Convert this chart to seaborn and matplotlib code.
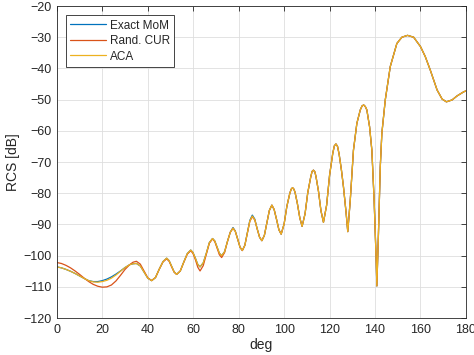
import pandas as pd
import matplotlib
matplotlib.use("Agg")
import matplotlib.pyplot as plt
import seaborn as sns

# angle samples (deg)
deg = [0, 2, 4, 6, 8, 10, 12, 14, 16, 18, 20, 22, 24, 26, 28, 30, 32, 33.5, 35,
       36.7, 38.4, 40, 41.7, 43.4, 45, 46.7, 48.3, 49.4, 50.5, 51.6, 52.7,
       54.3, 55.8, 57.4, 58.9, 59.9, 61, 62, 63, 64.4, 65.8, 67.1, 68.5,
       69.5, 70.5, 71.5, 72.5, 73.8, 75, 76.3, 77.5, 78.5, 79.6, 80.6, 81.6,
       82.7, 83.8, 84.9, 86, 87.1, 88.1, 89.2, 90.2, 91.3, 92.4, 93.5, 94.6,
       95.6, 96.7, 97.7, 98.7, 100, 101.2, 102.5, 103.1, 103.7, 104.3, 104.8, 105.8, 106.9, 107.9,
       109.2, 110.4, 111.7, 112.3, 112.9, 113.5, 114, 115.1, 116.2, 117.3,
       118.7, 120, 121.4, 122.1, 122.8, 123.5,
       124.2, 125.2, 126.1, 127.3, 128, 129.1, 130.5, 132, 133.5, 134.3, 135, 135.7,
       136.4, 137.6, 138.6, 139.6, 140.5, 140.8, 141.5, 142.3, 143, 144.5, 146.7,
       149.6, 151.8, 154.3, 157, 160, 162.1, 164.3, 165.8, 167.3, 169.5, 171.4,
       173.9, 176.1, 179, 180]

aca = [-103.6, -103.9, -104.4, -105.0, -105.7, -106.5, -107.3, -108.0, -108.4, -108.5,
       -108.3, -107.9, -107.2, -106.2, -105.0, -103.8, -102.9, -102.6, -102.5,
       -103.3, -105.3, -107.2, -108.0, -107.0, -104.4, -101.9, -100.8, -101.6, -103.4, -105.2, -106.0,
       -104.9, -102.1, -99.3, -98.2, -99.0, -100.9, -102.8, -103.6, -102.3, -99.1, -95.8, -94.5,
       -95.3, -97.3, -99.2, -100.0, -98.7, -95.6, -92.5, -91.2, -92.2, -94.8, -97.3, -98.3,
       -96.7, -92.8, -88.9, -87.3, -88.5, -91.3, -94.1, -95.2, -93.5, -89.5, -85.5, -83.8,
       -85.2, -88.5, -91.7, -93.1, -89.8, -84.2, -80.0, -78.7, -78.2, -78.7, -79.7, -83.2, -87.9, -90.6,
       -86.6, -79.8, -74.8, -73.0, -72.6, -73.1, -74.6, -79.3, -85.6, -89.3,
       -83.8, -74.2, -67.2, -64.8, -64.2, -65.0,
       -67.5, -72.5, -77.9, -86.5, -92.3, -82.2, -66.2, -57.6, -53.3, -52.0, -51.7, -52.2,
       -53.3, -58.7, -66.2, -82.2, -101.4, -109.7, -93.0, -71.6, -60.8, -50.1, -39.4,
       -32.0, -30.0, -29.4, -30.0, -33.0, -36.2, -40.5, -43.7, -46.9, -49.8, -50.7,
       -50.1, -48.8, -47.5, -47.2]

cur = [-102.2, -102.5, -103.1, -103.9, -104.9, -106.0, -107.2, -108.3, -109.2, -109.8,
       -110.1, -110.0, -109.4, -108.1, -106.3, -104.4, -102.9, -102.1, -101.8,
       -102.7, -105.0, -107.1, -108.0, -107.0, -104.4, -102.0, -101.0, -101.8, -103.6, -105.3, -106.0,
       -104.9, -102.2, -99.5, -98.4, -99.3, -101.4, -103.7, -104.9, -103.2, -99.5, -96.0, -94.6,
       -95.5, -97.6, -99.7, -100.6, -99.0, -95.6, -92.5, -91.2, -92.2, -94.8, -97.3, -98.4,
       -96.7, -92.8, -89.0, -87.5, -88.6, -91.3, -94.1, -95.2, -93.5, -89.5, -85.5, -83.8,
       -85.2, -88.5, -91.7, -93.1, -89.8, -84.2, -80.0, -78.7, -78.2, -78.7, -79.7, -83.2, -87.9, -90.6,
       -86.6, -79.8, -74.8, -73.0, -72.6, -73.1, -74.6, -79.3, -85.6, -89.3,
       -83.8, -74.2, -67.2, -64.8, -64.2, -65.0,
       -67.5, -72.5, -77.9, -86.5, -92.3, -82.2, -66.2, -57.6, -53.3, -52.0, -51.7, -52.2,
       -53.3, -58.7, -66.2, -82.2, -101.4, -109.7, -93.0, -71.6, -60.8, -50.1, -39.4,
       -32.0, -30.0, -29.4, -30.0, -33.0, -36.2, -40.5, -43.7, -46.9, -49.8, -50.7,
       -50.1, -48.8, -47.5, -47.2]

mom = [-103.6, -103.9, -104.4, -105.0, -105.7, -106.5, -107.3, -108.0, -108.3, -108.3,
       -108.0, -107.5, -106.8, -105.9, -104.9, -103.8, -102.9, -102.6, -102.5,
       -103.3, -105.3, -107.2, -108.0, -107.0, -104.4, -101.9, -100.8, -101.6, -103.4, -105.2, -106.0,
       -104.9, -102.1, -99.3, -98.2, -99.0, -100.9, -102.8, -103.6, -102.3, -99.1, -95.8, -94.5,
       -95.3, -97.3, -99.2, -100.0, -98.7, -95.6, -92.5, -91.0, -92.1, -94.8, -97.3, -98.3,
       -96.7, -92.7, -88.7, -87.0, -88.3, -91.3, -94.1, -95.2, -93.5, -89.5, -85.5, -83.8,
       -85.2, -88.5, -91.7, -93.1, -89.8, -84.2, -80.0, -78.7, -78.2, -78.7, -79.7, -83.2, -87.9, -90.6,
       -86.6, -79.8, -74.8, -73.0, -72.6, -73.1, -74.6, -79.3, -85.6, -89.3,
       -83.8, -74.2, -67.2, -64.8, -64.2, -65.0,
       -67.5, -72.5, -77.9, -86.5, -92.3, -82.2, -66.2, -57.6, -53.3, -52.0, -51.7, -52.2,
       -53.3, -58.7, -66.2, -82.2, -101.4, -109.7, -93.0, -71.6, -60.8, -50.1, -39.4,
       -32.0, -30.0, -29.4, -30.0, -33.0, -36.2, -40.5, -43.7, -46.9, -49.8, -50.7,
       -50.1, -48.8, -47.5, -47.2]

names = ['Exact MoM', 'Rand. CUR', 'ACA']
colors = ['#0072BD', '#D95319', '#EDB120']

assert len(deg) == len(aca) == len(cur) == len(mom)

frames = []
for name, vals in zip(names, [mom, cur, aca]):
    frames.append(pd.DataFrame({'deg': deg, 'RCS': vals, 'method': name}))
df = pd.concat(frames, ignore_index=True)

sns.set_style('white')
plt.rcParams['font.family'] = ['Liberation Sans', 'DejaVu Sans']

fig = plt.figure(figsize=(4.74, 3.55), dpi=100)
ax = fig.add_axes([0.120, 0.104, 0.863, 0.879])

sns.lineplot(data=df, x='deg', y='RCS', hue='method', hue_order=names,
             palette=colors, estimator=None, sort=False, linewidth=0.9, ax=ax)

ax.set_xlim(0, 180)
ax.set_ylim(-120, -20)
ax.set_xticks(range(0, 181, 20))
ax.set_yticks(range(-120, -19, 10))
ax.grid(True, color='#dedede', linewidth=0.6)
ax.set_axisbelow(True)
for s in ax.spines.values():
    s.set_color('#262626')
    s.set_linewidth(0.6)
ax.tick_params(direction='in', length=3.5, width=0.6, top=True, right=True,
               labelsize=9, colors='#262626', pad=4)
ax.set_xlabel('deg', fontsize=10, color='#262626', labelpad=2)
ax.set_ylabel('RCS [dB]', fontsize=10, color='#262626', labelpad=2)

leg = ax.legend(loc='upper left', bbox_to_anchor=(0.022, 0.97), fontsize=8.5,
                frameon=True, fancybox=False, framealpha=1, edgecolor='#262626',
                handlelength=3.05, borderpad=0.35, labelspacing=0.3, handletextpad=0.3,
                borderaxespad=0)
leg.get_frame().set_linewidth(0.6)
for line in leg.get_lines():
    line.set_linewidth(0.9)

fig.savefig('out.png', dpi=100)
